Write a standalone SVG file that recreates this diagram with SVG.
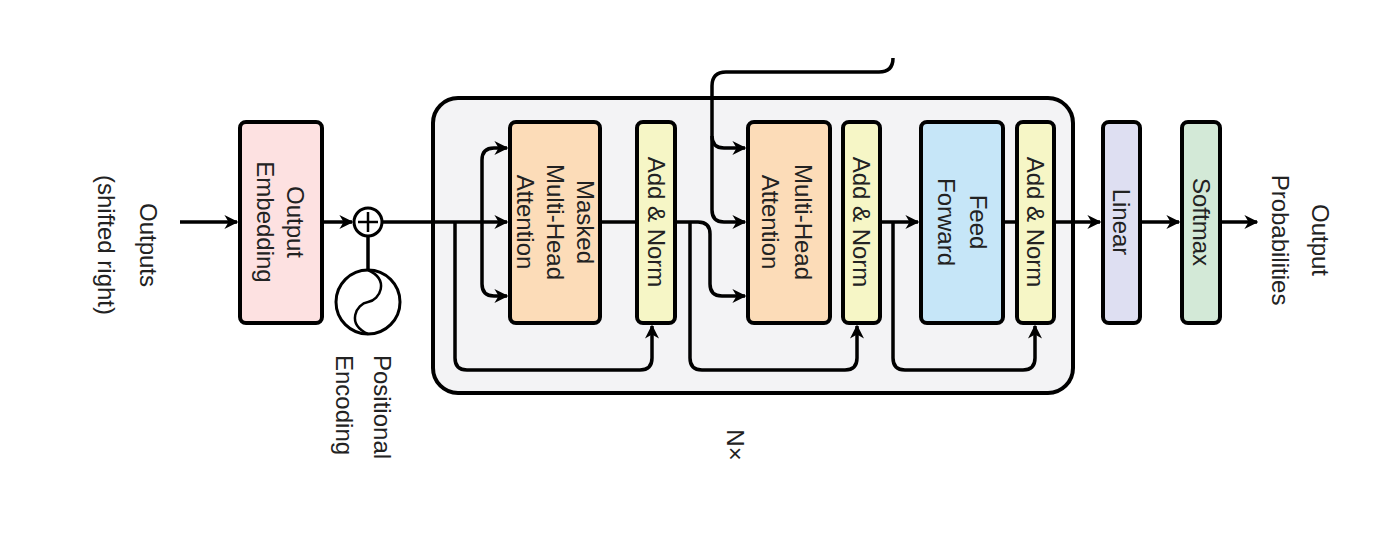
<svg xmlns="http://www.w3.org/2000/svg" width="1400" height="535" viewBox="0 0 1400 535">
<defs>
<marker id="ah" viewBox="0 0 10 10" refX="9" refY="5" markerWidth="4" markerHeight="4" orient="auto" markerUnits="strokeWidth"><path d="M0,0 L10,5 L0,10 L3,5 z" fill="#000"/></marker>
</defs>
<style>
.b{stroke:#000;stroke-width:4}
.t{font-family:"Liberation Sans",Arial,sans-serif;font-size:24px;fill:#222;text-anchor:middle;dominant-baseline:central}
.c{fill:none;stroke:#000;stroke-width:3.5}
.a{marker-end:url(#ah)}
</style>
<rect x="433" y="98" width="640" height="295" rx="25" fill="#f3f3f5" class="b"/>
<g id="outputs"><text class="t" transform="translate(148,245) rotate(90)">Outputs</text><text class="t" transform="translate(106,245) rotate(90)">(shifted right)</text></g>
<g id="emb"><rect x="240" y="122" width="82" height="201" rx="6" fill="#fde1e1" class="b"/><text class="t" transform="translate(295,222) rotate(90)">Output</text><text class="t" transform="translate(265,222) rotate(90)">Embedding</text></g>
<g id="plus"><circle cx="368" cy="222" r="14" fill="#fff" stroke="#000" stroke-width="3"/><path d="M358,222H378M368,212V232" stroke="#000" stroke-width="2.5"/></g>
<g id="pe"><circle cx="368" cy="302" r="32" fill="#fff" stroke="#000" stroke-width="3"/><path d="M368,270 C390,280 380,300 368,302 C356,304 346,324 368,334" fill="none" stroke="#000" stroke-width="2.5"/><text class="t" transform="translate(382,355) rotate(90)" style="text-anchor:start">Positional</text><text class="t" transform="translate(344,355) rotate(90)" style="text-anchor:start">Encoding</text></g>
<g id="mmha"><rect x="510" y="122" width="90" height="201" rx="6" fill="#fcdcb8" class="b"/><text class="t" transform="translate(585,222) rotate(90)">Masked</text><text class="t" transform="translate(555,222) rotate(90)">Multi-Head</text><text class="t" transform="translate(525,222) rotate(90)">Attention</text></g>
<g id="an1"><rect x="637" y="122" width="38" height="201" rx="6" fill="#f6f6c6" class="b"/><text class="t" transform="translate(656,222) rotate(90)">Add &amp; Norm</text></g>
<g id="mha"><rect x="748" y="122" width="82" height="201" rx="6" fill="#fcdcb8" class="b"/><text class="t" transform="translate(803,222) rotate(90)">Multi-Head</text><text class="t" transform="translate(770,222) rotate(90)">Attention</text></g>
<g id="an2"><rect x="843" y="122" width="37" height="201" rx="6" fill="#f6f6c6" class="b"/><text class="t" transform="translate(861,222) rotate(90)">Add &amp; Norm</text></g>
<g id="ff"><rect x="921" y="122" width="82" height="201" rx="6" fill="#c6e6f8" class="b"/><text class="t" transform="translate(978,222) rotate(90)">Feed</text><text class="t" transform="translate(946,222) rotate(90)">Forward</text></g>
<g id="an3"><rect x="1017" y="122" width="37" height="201" rx="6" fill="#f6f6c6" class="b"/><text class="t" transform="translate(1035,222) rotate(90)">Add &amp; Norm</text></g>
<g id="lin"><rect x="1103" y="122" width="37" height="201" rx="6" fill="#dedff2" class="b"/><text class="t" transform="translate(1121,222) rotate(90)">Linear</text></g>
<g id="sm"><rect x="1182" y="122" width="38" height="201" rx="6" fill="#d3e9d7" class="b"/><text class="t" transform="translate(1201,222) rotate(90)">Softmax</text></g>
<g id="outp"><text class="t" transform="translate(1320,240) rotate(90)">Output</text><text class="t" transform="translate(1280,240) rotate(90)">Probabilities</text></g>
<text id="nx" class="t" transform="translate(735,445) rotate(90)">N×</text>
<g id="connectors">
<path class="c a" d="M180,222H237"/>
<path class="c a" d="M322,222H352"/>
<path class="c" d="M368,236V270"/>
<path class="c a" d="M382,222H507"/>
<path class="c a" d="M482,222V160Q482,148 494,148H507"/>
<path class="c a" d="M482,222V284Q482,296 494,296H507"/>
<path class="c a" d="M455,222V358Q455,370 467,370H640Q652,370 652,358V326"/>
<path class="c" d="M600,222H637"/>
<path class="c" d="M675,222H698Q710,222 710,234V284"/>
<path class="c a" d="M710,284Q710,296 722,296H745"/>
<path class="c a" d="M690,222V358Q690,370 702,370H845Q857,370 857,358V326"/>
<path class="c" d="M893,58Q893,72 879,72H726Q712,72 712,86V210"/>
<path class="c a" d="M712,210Q712,222 724,222H745"/>
<path class="c a" d="M712,136Q712,148 724,148H745"/>
<path class="c a" d="M880,222H918"/>
<path class="c a" d="M893,222V358Q893,370 905,370H1023Q1035,370 1035,358V326"/>
<path class="c" d="M1003,222H1017"/>
<path class="c a" d="M1054,222H1100"/>
<path class="c a" d="M1140,222H1179"/>
<path class="c a" d="M1220,222H1257"/>
</g>
</svg>
